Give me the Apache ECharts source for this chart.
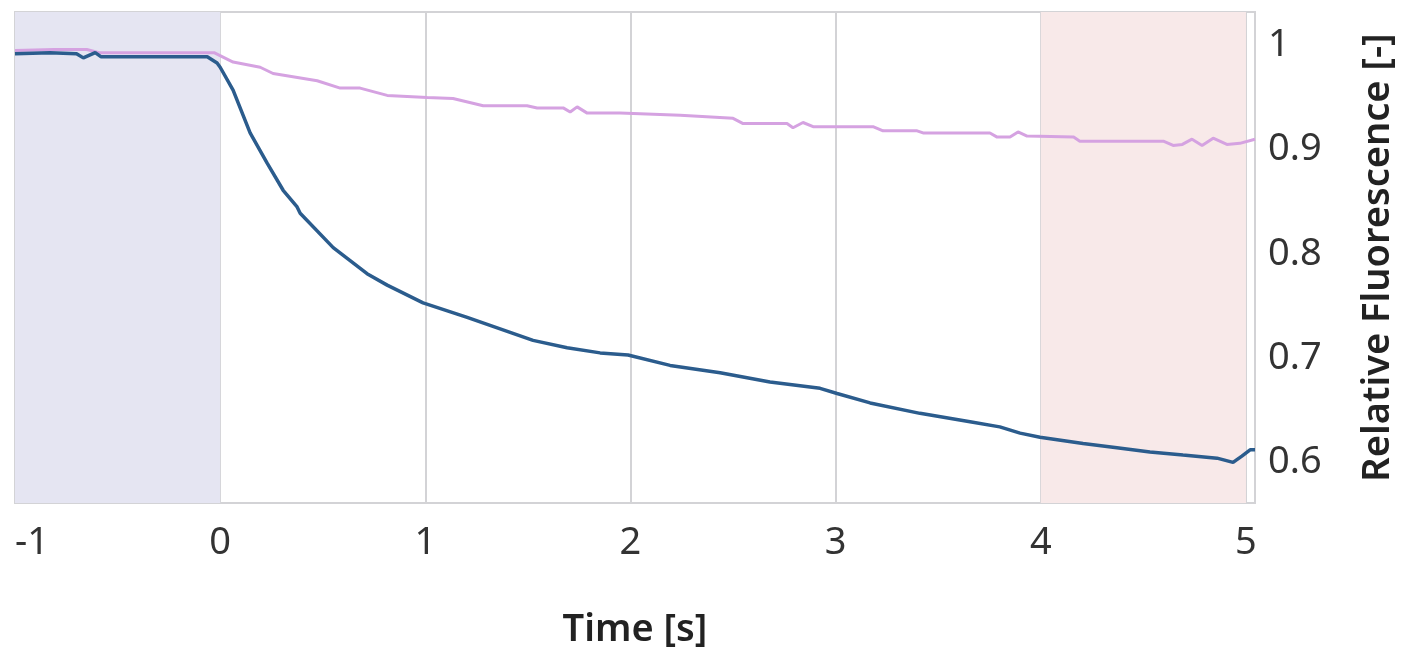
<!DOCTYPE html>
<html>
<head>
<meta charset="utf-8">
<script src="https://cdn.jsdelivr.net/npm/echarts@6/dist/echarts.min.js"></script>
<style>
html,body{margin:0;padding:0;background:#fff;}
#chart{width:1413px;height:668px;}
</style>
</head>
<body>
<div id="chart"></div>
<script>
// Time [s] / Relative Fluorescence [-]
var blueX = [-1.0, -0.83, -0.70, -0.667, -0.609, -0.58, -0.30, -0.063, -0.015, 0.0, 0.063, 0.146, 0.229, 0.307, 0.375, 0.39, 0.551, 0.716, 0.814, 0.989, 1.204, 1.525, 1.691, 1.852, 1.988, 2.193, 2.437, 2.680, 2.924, 3.007, 3.168, 3.411, 3.655, 3.80, 3.899, 3.996, 4.206, 4.371, 4.532, 4.693, 4.859, 4.937, 4.98, 5.02, 5.044];
var blueY = [0.992, 0.993, 0.992, 0.988, 0.993, 0.989, 0.989, 0.989, 0.983, 0.979, 0.957, 0.916, 0.887, 0.861, 0.845, 0.839, 0.806, 0.781, 0.770, 0.753, 0.739, 0.717, 0.710, 0.705, 0.703, 0.693, 0.686, 0.677, 0.671, 0.666, 0.657, 0.647, 0.639, 0.634, 0.628, 0.624, 0.618, 0.614, 0.610, 0.607, 0.604, 0.600, 0.606, 0.612, 0.612];
var violetX = [-1.0, -0.81, -0.65, -0.59, -0.03, 0.063, 0.195, 0.258, 0.473, 0.585, 0.682, 0.814, 1.009, 1.135, 1.282, 1.496, 1.545, 1.672, 1.706, 1.74, 1.789, 1.949, 2.242, 2.50, 2.549, 2.763, 2.792, 2.841, 2.890, 3.182, 3.231, 3.397, 3.426, 3.752, 3.787, 3.85, 3.889, 3.933, 4.16, 4.19, 4.60, 4.645, 4.69, 4.737, 4.786, 4.84, 4.907, 4.97, 5.044];
var violetY = [0.995, 0.996, 0.996, 0.993, 0.993, 0.984, 0.979, 0.973, 0.966, 0.959, 0.959, 0.952, 0.950, 0.949, 0.942, 0.942, 0.940, 0.940, 0.936, 0.941, 0.935, 0.935, 0.933, 0.930, 0.925, 0.925, 0.921, 0.926, 0.922, 0.922, 0.918, 0.918, 0.916, 0.916, 0.912, 0.912, 0.917, 0.913, 0.912, 0.908, 0.908, 0.904, 0.905, 0.910, 0.904, 0.911, 0.905, 0.906, 0.910];
var xTicks = [-1, 0, 1, 2, 3, 4, 5];
var yTicks = [0.6, 0.7, 0.8, 0.9, 1];
var bandStart = [-1, 4];
var bandEnd = [0, 5];
var bandColors = ['#e5e5f2', '#f8e9e9'];

function pairs(xs, ys) { return xs.map(function (x, i) { return [x, ys[i]]; }); }

var chart = echarts.init(document.getElementById('chart'), null, {renderer: 'canvas'});
var font = '"Noto Sans", "Open Sans", sans-serif';
chart.setOption({
  animation: false,
  grid: {left: 15, right: 158, top: 12, bottom: 165, show: true, borderColor: '#d3d3d6', borderWidth: 2, backgroundColor: 'transparent'},
  xAxis: {
    type: 'value', min: -1, max: 5.044,
    name: 'Time [s]', nameLocation: 'middle', nameGap: 108,
    nameTextStyle: {fontFamily: font, fontSize: 38, fontWeight: 600, color: '#222'},
    axisLine: {show: false}, axisTick: {show: false},
    axisLabel: {customValues: xTicks, fontFamily: font, fontSize: 38, color: '#333', margin: 21, alignMinLabel: 'left'},
    splitLine: {show: true, lineStyle: {color: '#d3d3d6', width: 2}}
  },
  yAxis: {
    type: 'value', position: 'right', min: 0.561, max: 1.032,
    name: 'Relative Fluorescence [-]', nameLocation: 'middle', nameGap: 104, nameRotate: 90,
    nameTextStyle: {fontFamily: font, fontSize: 38, fontWeight: 600, color: '#222'},
    axisLine: {show: false}, axisTick: {show: false},
    axisLabel: {customValues: yTicks, fontFamily: font, fontSize: 38, color: '#333', margin: 13,
      formatter: function (v) { return String(Math.round(v * 10) / 10); }},
    splitLine: {show: false}
  },
  series: [
    {
      type: 'line', data: [], z: -1, silent: true,
      markArea: {silent: true, data: bandStart.map(function (s, i) {
        return [{xAxis: s, itemStyle: {color: bandColors[i]}}, {xAxis: bandEnd[i]}];
      })}
    },
    {type: 'line', data: pairs(violetX, violetY), symbol: 'none', lineStyle: {color: '#d5a2e1', width: 3}},
    {type: 'line', data: pairs(blueX, blueY), symbol: 'none', lineStyle: {color: '#2b5c8d', width: 3.5}}
  ]
});
</script>
</body>
</html>
